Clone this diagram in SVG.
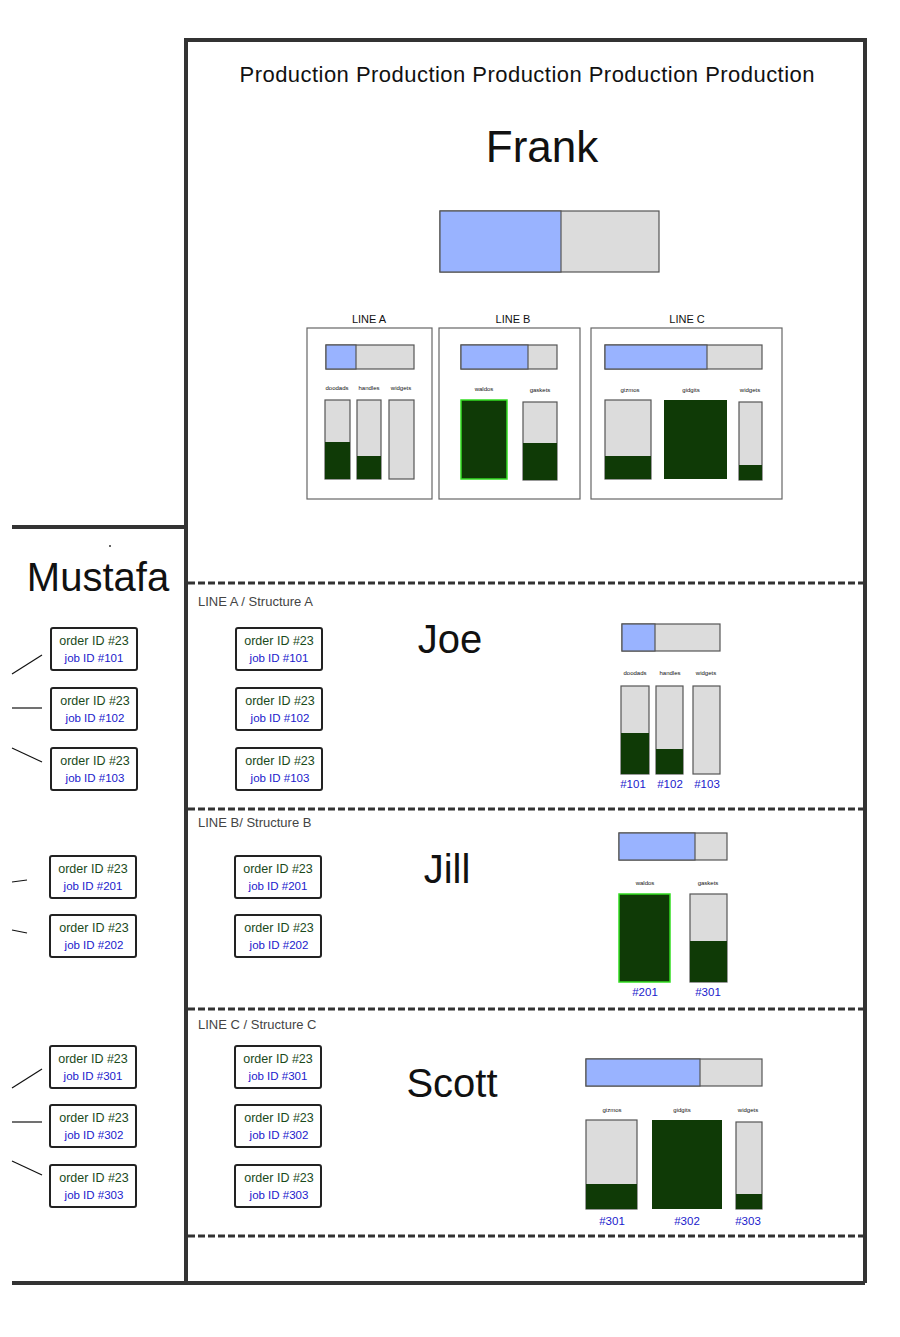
<svg xmlns="http://www.w3.org/2000/svg" width="900" height="1337" viewBox="0 0 900 1337">
<style>
text{font-family:"Liberation Sans",Arial,sans-serif;fill:#111}
.frame{fill:none;stroke:#333;stroke-width:4}
.sep{stroke:#333;stroke-width:3;stroke-dasharray:7 3}
.box{fill:#fff;stroke:#222;stroke-width:2}
.ord{font-size:12.5px;fill:#1a4a1a;text-anchor:middle}
.job{font-size:11.5px;fill:#1a1acc;text-anchor:middle}
.blue{fill:#99b3ff;stroke:#555;stroke-width:1.2}
.gray{fill:#dcdcdc;stroke:#555;stroke-width:1.2}
.grn{fill:#0f3a06}
.gb{fill:#0f3a06;stroke:#33dd22;stroke-width:1.5}
.tiny{font-size:6px;text-anchor:middle}
.num{font-size:11.5px;fill:#1a1acc;text-anchor:middle}
.sec{font-size:13px;fill:#444}
.big{text-anchor:middle}
.lineb{fill:#fff;stroke:#666;stroke-width:1.2}
.tick{stroke:#111;stroke-width:1.2}
</style>
<rect width="900" height="1337" fill="#fff"/>
<g id="frame">
<path class="frame" d="M186 1283 V40 H865 V1283 M12 527 H186 M12 1283 H865"/>
<circle cx="110" cy="546" r="1" fill="#333"/>
</g>
<g id="connectors">
<line class="sep" x1="188" y1="583" x2="863" y2="583"/>
<line class="sep" x1="188" y1="809" x2="863" y2="809"/>
<line class="sep" x1="188" y1="1009" x2="863" y2="1009"/>
<line class="sep" x1="188" y1="1236" x2="863" y2="1236"/>
<line class="tick" x1="12" y1="674" x2="42" y2="655"/>
<line class="tick" x1="12" y1="708" x2="42" y2="708"/>
<line class="tick" x1="12" y1="748" x2="42" y2="762"/>
<line class="tick" x1="12" y1="882" x2="27" y2="880"/>
<line class="tick" x1="12" y1="930" x2="27" y2="933"/>
<line class="tick" x1="12" y1="1088" x2="42" y2="1069"/>
<line class="tick" x1="12" y1="1122" x2="42" y2="1122"/>
<line class="tick" x1="12" y1="1161" x2="42" y2="1175"/>
</g>
<g id="frank">
<text x="527" y="82" font-size="22" class="big" textLength="575" lengthAdjust="spacing">Production Production Production Production Production</text>
<text x="542" y="162" font-size="44" class="big">Frank</text>
<rect class="gray" x="440" y="211" width="219" height="61"/>
<rect class="blue" x="440" y="211" width="121" height="61"/>
</g>
<g id="lineA">
<text x="369" y="323" font-size="11" class="big">LINE A</text>
<rect class="lineb" x="307" y="328" width="125" height="171"/>
<rect class="gray" x="326" y="345" width="88" height="24"/><rect class="blue" x="326" y="345" width="30" height="24"/>
<text class="tiny" x="337" y="390">doodads</text><text class="tiny" x="369" y="390">handles</text><text class="tiny" x="401" y="390">widgets</text>
<rect class="gray" x="325" y="400" width="25" height="79"/><rect class="grn" x="325" y="442" width="25" height="37"/>
<rect class="gray" x="357" y="400" width="24" height="79"/><rect class="grn" x="357" y="456" width="24" height="23"/>
<rect class="gray" x="389" y="400" width="25" height="79"/>
</g>
<g id="lineB">
<text x="513" y="323" font-size="11" class="big">LINE B</text>
<rect class="lineb" x="439" y="328" width="141" height="171"/>
<rect class="gray" x="461" y="345" width="96" height="24"/><rect class="blue" x="461" y="345" width="67" height="24"/>
<text class="tiny" x="484" y="391">waldos</text><text class="tiny" x="540" y="392">gaskets</text>
<rect class="gb" x="461" y="400" width="46" height="79"/>
<rect class="gray" x="523" y="402" width="34" height="78"/><rect class="grn" x="523" y="443" width="34" height="37"/>
</g>
<g id="lineC">
<text x="687" y="323" font-size="11" class="big">LINE C</text>
<rect class="lineb" x="591" y="328" width="191" height="171"/>
<rect class="gray" x="605" y="345" width="157" height="24"/><rect class="blue" x="605" y="345" width="102" height="24"/>
<text class="tiny" x="630" y="392">gizmos</text><text class="tiny" x="691" y="392">gidgits</text><text class="tiny" x="750" y="392">widgets</text>
<rect class="gray" x="605" y="400" width="46" height="79"/><rect class="grn" x="605" y="456" width="46" height="23"/>
<rect class="grn" x="664" y="400" width="63" height="79"/>
<rect class="gray" x="739" y="402" width="23" height="78"/><rect class="grn" x="739" y="465" width="23" height="15"/>
</g>
<g id="mustafa">
<text x="98" y="591" font-size="40" class="big">Mustafa</text>
</g>
<g id="m101"><rect class="box" x="51" y="628" width="86" height="42" rx="2"/><text class="ord" x="94" y="645">order ID #23</text><text class="job" x="94" y="662">job ID #101</text></g>
<g id="m102"><rect class="box" x="51" y="688" width="86" height="42" rx="2"/><text class="ord" x="95" y="705">order ID #23</text><text class="job" x="95" y="722">job ID #102</text></g>
<g id="m103"><rect class="box" x="51" y="748" width="86" height="42" rx="2"/><text class="ord" x="95" y="765">order ID #23</text><text class="job" x="95" y="782">job ID #103</text></g>
<g id="m201"><rect class="box" x="50" y="856" width="86" height="42" rx="2"/><text class="ord" x="93" y="873">order ID #23</text><text class="job" x="93" y="890">job ID #201</text></g>
<g id="m202"><rect class="box" x="50" y="915" width="86" height="42" rx="2"/><text class="ord" x="94" y="932">order ID #23</text><text class="job" x="94" y="949">job ID #202</text></g>
<g id="m301"><rect class="box" x="50" y="1046" width="86" height="42" rx="2"/><text class="ord" x="93" y="1063">order ID #23</text><text class="job" x="93" y="1080">job ID #301</text></g>
<g id="m302"><rect class="box" x="50" y="1105" width="86" height="42" rx="2"/><text class="ord" x="94" y="1122">order ID #23</text><text class="job" x="94" y="1139">job ID #302</text></g>
<g id="m303"><rect class="box" x="50" y="1165" width="86" height="42" rx="2"/><text class="ord" x="94" y="1182">order ID #23</text><text class="job" x="94" y="1199">job ID #303</text></g>
<g id="joe">
<text class="sec" x="198" y="606">LINE A / Structure A</text>
<text x="450" y="653" font-size="40" class="big">Joe</text>
<rect class="gray" x="622" y="624" width="98" height="27"/><rect class="blue" x="622" y="624" width="33" height="27"/>
<text class="tiny" x="635" y="675">doodads</text><text class="tiny" x="670" y="675">handles</text><text class="tiny" x="706" y="675">widgets</text>
<rect class="gray" x="621" y="686" width="28" height="88"/><rect class="grn" x="621" y="733" width="28" height="41"/>
<rect class="gray" x="656" y="686" width="27" height="88"/><rect class="grn" x="656" y="749" width="27" height="25"/>
<rect class="gray" x="693" y="686" width="27" height="88"/>
<text class="num" x="633" y="788">#101</text><text class="num" x="670" y="788">#102</text><text class="num" x="707" y="788">#103</text>
</g>
<g id="j101"><rect class="box" x="236" y="628" width="86" height="42" rx="2"/><text class="ord" x="279" y="645">order ID #23</text><text class="job" x="279" y="662">job ID #101</text></g>
<g id="j102"><rect class="box" x="236" y="688" width="86" height="42" rx="2"/><text class="ord" x="280" y="705">order ID #23</text><text class="job" x="280" y="722">job ID #102</text></g>
<g id="j103"><rect class="box" x="236" y="748" width="86" height="42" rx="2"/><text class="ord" x="280" y="765">order ID #23</text><text class="job" x="280" y="782">job ID #103</text></g>
<g id="jill">
<text class="sec" x="198" y="827">LINE B/ Structure B</text>
<text x="447" y="883" font-size="40" class="big">Jill</text>
<rect class="gray" x="619" y="833" width="108" height="27"/><rect class="blue" x="619" y="833" width="76" height="27"/>
<text class="tiny" x="645" y="885">waldos</text><text class="tiny" x="708" y="885">gaskets</text>
<rect class="gb" x="619" y="894" width="51" height="88"/>
<rect class="gray" x="690" y="894" width="37" height="88"/><rect class="grn" x="690" y="941" width="37" height="41"/>
<text class="num" x="645" y="996">#201</text><text class="num" x="708" y="996">#301</text>
</g>
<g id="k201"><rect class="box" x="235" y="856" width="86" height="42" rx="2"/><text class="ord" x="278" y="873">order ID #23</text><text class="job" x="278" y="890">job ID #201</text></g>
<g id="k202"><rect class="box" x="235" y="915" width="86" height="42" rx="2"/><text class="ord" x="279" y="932">order ID #23</text><text class="job" x="279" y="949">job ID #202</text></g>
<g id="scott">
<text class="sec" x="198" y="1029">LINE C / Structure C</text>
<text x="452" y="1097" font-size="40" class="big">Scott</text>
<rect class="gray" x="586" y="1059" width="176" height="27"/><rect class="blue" x="586" y="1059" width="114" height="27"/>
<text class="tiny" x="612" y="1112">gizmos</text><text class="tiny" x="682" y="1112">gidgits</text><text class="tiny" x="748" y="1112">widgets</text>
<rect class="gray" x="586" y="1120" width="51" height="89"/><rect class="grn" x="586" y="1184" width="51" height="25"/>
<rect class="grn" x="652" y="1120" width="70" height="89"/>
<rect class="gray" x="736" y="1122" width="26" height="87"/><rect class="grn" x="736" y="1194" width="26" height="15"/>
<text class="num" x="612" y="1225">#301</text><text class="num" x="687" y="1225">#302</text><text class="num" x="748" y="1225">#303</text>
</g>
<g id="s301"><rect class="box" x="235" y="1046" width="86" height="42" rx="2"/><text class="ord" x="278" y="1063">order ID #23</text><text class="job" x="278" y="1080">job ID #301</text></g>
<g id="s302"><rect class="box" x="235" y="1105" width="86" height="42" rx="2"/><text class="ord" x="279" y="1122">order ID #23</text><text class="job" x="279" y="1139">job ID #302</text></g>
<g id="s303"><rect class="box" x="235" y="1165" width="86" height="42" rx="2"/><text class="ord" x="279" y="1182">order ID #23</text><text class="job" x="279" y="1199">job ID #303</text></g>
</svg>
